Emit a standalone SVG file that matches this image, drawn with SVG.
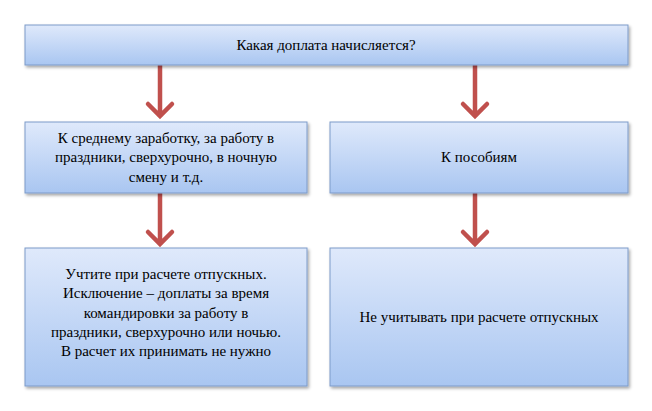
<svg xmlns="http://www.w3.org/2000/svg" width="652" height="411" viewBox="0 0 652 411" font-family="'Liberation Serif','Times New Roman','DejaVu Serif',serif">
<defs>
<linearGradient id="g" x1="0" y1="0" x2="0" y2="1"><stop offset="0" stop-color="#dfe9fb"/><stop offset="1" stop-color="#a9c6f1"/></linearGradient>
<filter id="s" x="-5%" y="-5%" width="115%" height="120%"><feDropShadow dx="1.5" dy="2" stdDeviation="1.5" flood-opacity="0.35"/></filter>
<style>
rect{fill:url(#g);stroke:#7d9bc9;stroke-width:1;filter:url(#s)}
text{font-family:'Liberation Serif','Times New Roman','DejaVu Serif',serif;font-size:15px;fill:#000;text-anchor:middle}
.a{stroke:#c0504d;stroke-width:4.5;fill:none;stroke-linecap:round}
</style>
</defs>
<rect x="0" y="0" width="652" height="411" style="fill:#fff;stroke:none;filter:none"/>
<g id="connectors">
<path class="a" d="M160 65V116M148 104L160 116L172 104"/>
<path class="a" d="M475 65V116M463 104L475 116L487 104"/>
<path class="a" d="M160 193V244M148 232L160 244L172 232"/>
<path class="a" d="M475 193V244M463 232L475 244L487 232"/>
</g>
<g id="n1"><rect x="25" y="25" width="603" height="40"/><text x="326" y="50">Какая доплата начисляется?</text></g>
<g id="n2"><rect x="25" y="122" width="282" height="71"/><text x="166" y="143">К среднему заработку, за работу в</text><text x="166" y="162">праздники, сверхурочно, в ночную</text><text x="166" y="182">смену и т.д.</text></g>
<g id="n3"><rect x="330" y="122" width="298" height="71"/><text x="479" y="162">К пособиям</text></g>
<g id="n4"><rect x="25" y="248" width="282" height="138"/><text x="166" y="279">Учтите при расчете отпускных.</text><text x="166" y="298">Исключение – доплаты за время</text><text x="166" y="318">командировки за работу в</text><text x="166" y="337">праздники, сверхурочно или ночью.</text><text x="166" y="356">В расчет их принимать не нужно</text></g>
<g id="n5"><rect x="330" y="248" width="298" height="138"/><text x="479" y="322">Не учитывать при расчете отпускных</text></g>
</svg>
